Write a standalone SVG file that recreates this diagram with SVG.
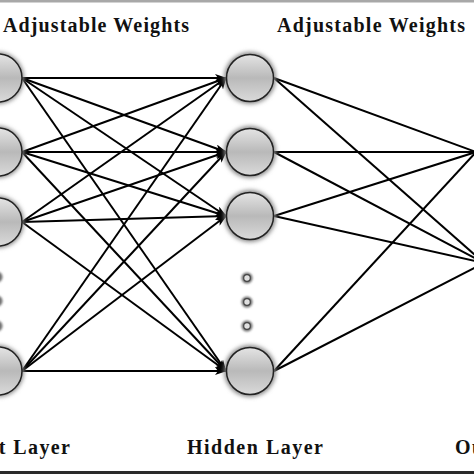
<svg xmlns="http://www.w3.org/2000/svg" width="474" height="474" viewBox="0 0 474 474">
<style>
.lbl{font-family:"Liberation Serif","Times New Roman",serif;font-weight:bold;font-size:20px;fill:#111}
.node{fill:url(#g);stroke:#222;stroke-width:1.5}
.glow{fill:#8a8a8a;filter:url(#blur)}
.dglow{fill:#6e6e6e;filter:url(#blur1)}
.dot{fill:#e0e0e0;stroke:#444;stroke-width:1.2}
.e{stroke:#000;stroke-width:2;fill:none}
.a{marker-end:url(#arr)}
</style>
<defs>
<linearGradient id="g" x1="0" y1="0" x2="0" y2="1">
<stop offset="0" stop-color="#e4e4e4"/>
<stop offset="0.5" stop-color="#b9b9b9"/>
<stop offset="1" stop-color="#dadada"/>
</linearGradient>
<filter id="blur" x="-50%" y="-50%" width="200%" height="200%">
<feGaussianBlur stdDeviation="2"/>
</filter>
<filter id="blur1" x="-50%" y="-50%" width="200%" height="200%">
<feGaussianBlur stdDeviation="1.2"/>
</filter>
<marker id="arr" markerUnits="userSpaceOnUse" markerWidth="12" markerHeight="8" refX="11" refY="4" orient="auto">
<path d="M0,0 L12,4 L0,8 L3,4 z" fill="#000"/>
</marker>
</defs>
<rect x="0" y="0" width="474" height="474" fill="#fff"/>
<rect x="0" y="0" width="474" height="2.5" fill="#a8a8a8"/>
<rect x="0" y="471" width="474" height="3" fill="#2a2a2a"/>

<g id="connectors">
<g class="e a">
<line x1="22" y1="78" x2="226" y2="78"/>
<line x1="22" y1="78" x2="226" y2="152"/>
<line x1="22" y1="78" x2="226" y2="216"/>
<line x1="22" y1="78" x2="226" y2="371"/>
<line x1="22" y1="152" x2="226" y2="78"/>
<line x1="22" y1="152" x2="226" y2="152"/>
<line x1="22" y1="152" x2="226" y2="216"/>
<line x1="22" y1="152" x2="226" y2="371"/>
<line x1="22" y1="222" x2="226" y2="78"/>
<line x1="22" y1="222" x2="226" y2="152"/>
<line x1="22" y1="222" x2="226" y2="216"/>
<line x1="22" y1="222" x2="226" y2="371"/>
<line x1="22" y1="371" x2="226" y2="78"/>
<line x1="22" y1="371" x2="226" y2="152"/>
<line x1="22" y1="371" x2="226" y2="216"/>
<line x1="22" y1="371" x2="226" y2="371"/>
</g>
<g class="e">
<line x1="274" y1="78" x2="476" y2="152"/>
<line x1="274" y1="78" x2="484" y2="263"/>
<line x1="274" y1="152" x2="476" y2="152"/>
<line x1="274" y1="152" x2="484" y2="263"/>
<line x1="274" y1="216" x2="476" y2="152"/>
<line x1="274" y1="216" x2="484" y2="263"/>
<line x1="274" y1="371" x2="476" y2="152"/>
<line x1="274" y1="371" x2="484" y2="263"/>
</g>
</g>

<g id="in1"><circle class="glow" cx="-2" cy="78" r="26"/><circle class="node" cx="-2" cy="78" r="24"/></g>
<g id="in2"><circle class="glow" cx="-2" cy="152" r="26"/><circle class="node" cx="-2" cy="152" r="24"/></g>
<g id="in3"><circle class="glow" cx="-2" cy="222" r="26"/><circle class="node" cx="-2" cy="222" r="24"/></g>
<g id="in4"><circle class="glow" cx="-2" cy="371" r="26"/><circle class="node" cx="-2" cy="371" r="24"/></g>
<g id="in-dots">
<circle class="dglow" cx="-3" cy="277" r="5.5"/><circle class="dglow" cx="-3" cy="301" r="5.5"/><circle class="dglow" cx="-3" cy="326" r="5.5"/>
</g>

<g id="h1"><circle class="glow" cx="250" cy="78" r="26"/><circle class="node" cx="250" cy="78" r="23.5"/></g>
<g id="h2"><circle class="glow" cx="250" cy="152" r="26"/><circle class="node" cx="250" cy="152" r="23.5"/></g>
<g id="h3"><circle class="glow" cx="250" cy="216" r="26"/><circle class="node" cx="250" cy="216" r="23.5"/></g>
<g id="h4"><circle class="glow" cx="250" cy="371" r="26"/><circle class="node" cx="250" cy="371" r="23.5"/></g>
<g id="h-dots">
<circle class="dglow" cx="247" cy="278" r="5.5"/><circle class="dot" cx="247" cy="278" r="3.3"/>
<circle class="dglow" cx="247" cy="302" r="5.5"/><circle class="dot" cx="247" cy="302" r="3.3"/>
<circle class="dglow" cx="247" cy="326" r="5.5"/><circle class="dot" cx="247" cy="326" r="3.3"/>
</g>

<g id="labels">
<text class="lbl" x="3" y="32" textLength="186" lengthAdjust="spacing">Adjustable Weights</text>
<text class="lbl" x="277" y="32" textLength="188" lengthAdjust="spacing">Adjustable Weights</text>
<text class="lbl" x="-48" y="454" textLength="118" lengthAdjust="spacing">Input Layer</text>
<text class="lbl" x="187" y="454" textLength="136" lengthAdjust="spacing">Hidden Layer</text>
<text class="lbl" x="455" y="454" textLength="135" lengthAdjust="spacing">Output Layer</text>
</g>
</svg>
